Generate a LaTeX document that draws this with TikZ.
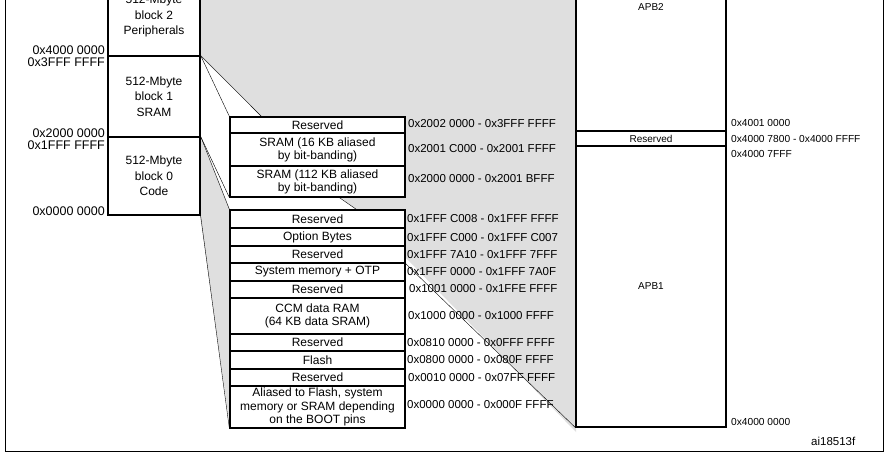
\documentclass[tikz,border=0pt]{standalone}
\usepackage{fontspec}
\setmainfont{Liberation Sans}
\usetikzlibrary{positioning}
\tikzstyle{row}=[rectangle,draw,line width=1.2pt,inner sep=0pt,minimum width=175pt,align=center,font=\fontsize{12}{13.2}\selectfont]
\tikzstyle{blk}=[rectangle,draw,line width=1.2pt,inner sep=0pt,minimum width=92pt,align=center,font=\fontsize{12}{15.5}\selectfont]
\tikzstyle{apb}=[rectangle,draw,line width=1.2pt,inner sep=0pt,minimum width=150pt,font=\fontsize{10}{10}\selectfont]
\tikzstyle{addr}=[anchor=west,inner sep=0pt,font=\fontsize{11.5}{12}\selectfont]
\tikzstyle{laddr}=[anchor=east,inner sep=0pt,font=\fontsize{12.5}{12.5}\selectfont]
\tikzstyle{raddr}=[anchor=west,inner sep=0pt,font=\fontsize{10.2}{10}\selectfont]
\begin{document}
\begin{tikzpicture}[x=1pt,y=-1pt]
\useasboundingbox (0,0) rectangle (888,456);
\clip (0,0) rectangle (888,456);
% grey background
\fill[gray!25] (200,0) -- (576,0) -- (576,432) -- (405,257) -- (405,210) -- (357,210) -- (340,197) -- (405,197) -- (405,117) -- (262,117) -- (200,56) -- cycle;
\fill[gray!25] (200,137) -- (230,210) -- (230,427) -- (200,215) -- cycle;
\draw[line width=0.8pt] (5,-5) rectangle (883,451);

% 512-Mbyte blocks
\node[blk,minimum height=80pt] (blk2) at (154,16) {512-Mbyte\\block 2\\Peripherals};
\node[blk,minimum height=81pt] (blk1) at (154,96.5) {512-Mbyte\\block 1\\SRAM};
\node[blk,minimum height=78pt] (blk0) at (154,176) {512-Mbyte\\block 0\\Code};
\node[laddr] at (105,50) {0x4000 0000};
\node[laddr] at (105,62.5) {0x3FFF FFFF};
\node[laddr] at (105,133) {0x2000 0000};
\node[laddr] at (105,145.5) {0x1FFF FFFF};
\node[laddr] at (105,211) {0x0000 0000};

% SRAM region
\node[row,minimum height=16pt] (sr1) at (317.5,125) {Reserved};
\node[row,minimum height=33pt] (sr2) at (317.5,149.5) {SRAM (16 KB aliased\\by bit-banding)};
\node[row,minimum height=31pt] (sr3) at (317.5,181.5) {SRAM (112 KB aliased\\by bit-banding)};
\node[addr] at (408,124) {0x2002 0000 - 0x3FFF FFFF};
\node[addr] at (408,149) {0x2001 C000 - 0x2001 FFFF};
\node[addr] at (408,179) {0x2000 0000 - 0x2001 BFFF};

% code region
\node[row,minimum height=18pt] (cd1) at (317.5,219) {Reserved};
\node[row,minimum height=18pt] (cd2) at (317.5,237) {Option Bytes};
\node[row,minimum height=17pt] (cd3) at (317.5,254.5) {Reserved};
\node[row,minimum height=18pt] (cd4) at (317.5,272) {System memory + OTP};
\node[row,minimum height=17pt] (cd5) at (317.5,289.5) {Reserved};
\node[row,minimum height=36pt] (cd6) at (317.5,316) {CCM data RAM\\(64 KB data SRAM)};
\node[row,minimum height=17pt] (cd7) at (317.5,342.5) {Reserved};
\node[row,minimum height=18pt] (cd8) at (317.5,360) {Flash};
\node[row,minimum height=17pt] (cd9) at (317.5,377.5) {Reserved};
\node[row,minimum height=42pt] (cd10) at (317.5,407) {Aliased to Flash, system\\memory or SRAM depending\\on the BOOT pins};
\node[addr] at (407,219) {0x1FFF C008 - 0x1FFF FFFF};
\node[addr] at (407,238) {0x1FFF C000 - 0x1FFF C007};
\node[addr] at (407,255) {0x1FFF 7A10 - 0x1FFF 7FFF};
\node[addr] at (407,272) {0x1FFF 0000 - 0x1FFF 7A0F};
\node[addr] at (409,289) {0x1001 0000 - 0x1FFE FFFF};
\node[addr] at (408,316) {0x1000 0000 - 0x1000 FFFF};
\node[addr] at (407,343) {0x0810 0000 - 0x0FFF FFFF};
\node[addr] at (407,360) {0x0800 0000 - 0x080F FFFF};
\node[addr] at (408,378) {0x0010 0000 - 0x07FF FFFF};
\node[addr] at (407,405) {0x0000 0000 - 0x000F FFFF};

% APB region
\node[apb,minimum height=171pt] (apb2) at (651,45.5) {};
\node[font=\fontsize{10}{10}\selectfont] (apb2l) at (651,7) {APB2};
\node[apb,minimum height=15pt] (rsv) at (651,138.5) {Reserved};
\node[apb,minimum height=281pt] (apb1) at (651,286.5) {APB1};
\node[raddr] at (731,123) {0x4001 0000};
\node[raddr] at (731,139) {0x4000 7800 - 0x4000 FFFF};
\node[raddr] at (731,154) {0x4000 7FFF};
\node[raddr] at (731,422) {0x4000 0000};
\node[raddr,font=\fontsize{11.5}{12}\selectfont] at (811,441) {ai18513f};

% zoom lines
\draw[thin] (blk1.north east) -- (sr1.north west);
\draw[thin] (blk1.north east) -- ([xshift=32pt]sr1.north west);
\draw[thin] (blk0.north east) -- (sr3.south west);
\draw[thin] (blk0.north east) -- (cd1.north west);
\draw[thin] (blk0.south east) -- (cd10.south west);
\draw[thin] ([xshift=110pt]sr3.south west) -- ([xshift=127pt]cd1.north west);
\draw[thin] (cd3.south east) -- (apb1.south west);
\end{tikzpicture}
\end{document}
